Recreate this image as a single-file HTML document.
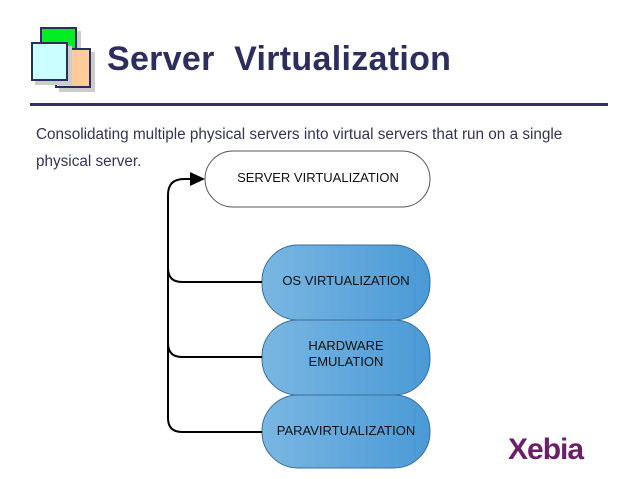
<!DOCTYPE html>
<html><head><style>
body{margin:0;width:638px;height:479px;background:#fff;position:relative;overflow:hidden;font-family:"Liberation Sans",sans-serif}
.a{position:absolute}
</style></head><body>
<div class="a" style="left:44px;top:31px;width:37px;height:40px;background:#ccc"></div>
<div class="a" style="left:40px;top:27px;width:33px;height:36px;background:#00ee22;border:2px solid #2e2e5a"></div>
<div class="a" style="left:59px;top:52px;width:36px;height:40px;background:#ccc"></div>
<div class="a" style="left:55px;top:48px;width:32px;height:36px;background:#ffcc99;border:2px solid #2e2e5a"></div>
<div class="a" style="left:35px;top:46px;width:37px;height:39px;background:#ccc"></div>
<div class="a" style="left:31px;top:42px;width:33px;height:35px;background:#ccffff;border:2px solid #2e2e5a"></div>
<div class="a" style="left:107px;top:40px;font-size:34px;font-weight:bold;color:#2e2e5e;white-space:pre;letter-spacing:0.3px">Server  Virtualization</div>
<div class="a" style="left:30px;top:103px;width:578px;height:3px;background:#33335e"></div>
<div class="a" style="left:36px;top:121px;font-size:15.3px;color:#333355;line-height:27px;white-space:nowrap">Consolidating multiple physical servers into virtual servers that run on a single<br>physical server.</div>
<svg class="a" style="left:0;top:0" width="638" height="479">
<defs><linearGradient id="g" x1="0" x2="1"><stop offset="0" stop-color="#7ab6e2"/><stop offset="1" stop-color="#4a9ad6"/></linearGradient></defs>
<rect x="205" y="151" width="225" height="56" rx="28" fill="#fff" stroke="#555" stroke-width="1"/>
<text x="318" y="182" font-size="13" text-anchor="middle" fill="#111">SERVER VIRTUALIZATION</text>
<rect x="262" y="395" width="168" height="73" rx="36" fill="url(#g)" stroke="#3a6f99"/>
<rect x="262" y="320" width="168" height="75" rx="36" fill="url(#g)" stroke="#3a6f99"/>
<rect x="262" y="245" width="168" height="75" rx="36" fill="url(#g)" stroke="#3a6f99"/>
<text x="346" y="285" font-size="13" text-anchor="middle" fill="#111">OS VIRTUALIZATION</text>
<text x="346" y="350" font-size="13" text-anchor="middle" fill="#111">HARDWARE</text>
<text x="346" y="366" font-size="13" text-anchor="middle" fill="#111">EMULATION</text>
<text x="346" y="435" font-size="13" text-anchor="middle" fill="#111">PARAVIRTUALIZATION</text>
<g fill="none" stroke="#000" stroke-width="2">
<path d="M262 432 H182 Q168 432 168 418 V195 Q168 179 184 179 H192"/>
<path d="M262 357 H182 Q168 357 168 343"/>
<path d="M262 282 H182 Q168 282 168 268"/>
</g>
<path d="M205 179 L190 172 L190 186 Z" fill="#000"/>
<text x="508" y="459" font-size="30" font-weight="bold" fill="#6b1f66" letter-spacing="-1">Xebia</text>
</svg>
</body></html>
